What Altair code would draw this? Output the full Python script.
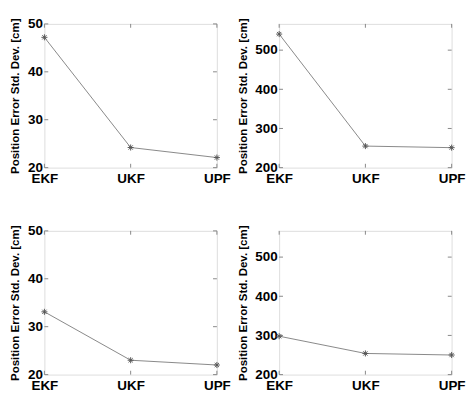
import altair as alt
import pandas as pd

methods = ["EKF", "UKF", "UPF"]
top_left = [47.2, 24.2, 22.1]
top_right = [541, 255, 251]
bottom_left = [33.1, 23.0, 22.0]
bottom_right = [298, 254, 250]
ticks_small = [20, 30, 40, 50]
ticks_large = [200, 300, 400, 500]
dom_small = [20, 50]
dom_large = [200, 567]

W, H = 180, 150
GRAY = "#858585"
ASTER = "M-1,0L1,0M0,-1L0,1M-0.7,-0.7L0.7,0.7M-0.7,0.7L0.7,-0.7"
TITLE = "Position Error Std. Dev. [cm]"
FONT = "Liberation Sans"


def panel(values, ticks, dom):
    df = pd.DataFrame({"method": methods, "value": values})
    tdf = pd.DataFrame({"value": ticks})
    cdf = pd.DataFrame({"method": methods})
    xs = alt.Scale(type="point", padding=0, domain=methods)
    ys = alt.Scale(domain=dom, nice=False, zero=False)
    xa = alt.Axis(title=None, labelAngle=0, ticks=False, domain=False,
                  grid=False, labelPadding=5, labelFont=FONT, labelFontSize=14,
                  labelFontWeight=700, labelColor="black")
    ya = alt.Axis(title=TITLE, values=ticks, ticks=False, domain=False,
                  grid=False, labelPadding=2, titlePadding=6, labelFont=FONT,
                  labelFontSize=14, labelFontWeight=700, labelColor="black",
                  titleFont=FONT, titleFontSize=12, titleFontWeight=700,
                  titleColor="black")
    x = alt.X("method:N", sort=methods, scale=xs, axis=xa)
    y = alt.Y("value:Q", scale=ys, axis=ya)
    base = alt.Chart(df)
    line = base.mark_line(color=GRAY, strokeWidth=1).encode(x=x, y=y)
    pts = base.mark_point(shape=ASTER, size=40, color="#555555", strokeWidth=1,
                          filled=False, opacity=1).encode(x=x, y=y)
    yt_l = alt.Chart(tdf).mark_rule(color=GRAY, strokeWidth=1).encode(
        y=y, x=alt.value(0), x2=alt.value(4))
    yt_r = alt.Chart(tdf).mark_rule(color=GRAY, strokeWidth=1).encode(
        y=y, x=alt.value(W - 4), x2=alt.value(W))
    xt_t = alt.Chart(cdf).mark_rule(color=GRAY, strokeWidth=1).encode(
        x=x, y=alt.value(0), y2=alt.value(4))
    xt_b = alt.Chart(cdf).mark_rule(color=GRAY, strokeWidth=1).encode(
        x=x, y=alt.value(H - 4), y2=alt.value(H))
    return alt.layer(line, yt_l, yt_r, xt_t, xt_b, pts).properties(width=W, height=H)


row1 = alt.hconcat(panel(top_left, ticks_small, dom_small),
                   panel(top_right, ticks_large, dom_large), spacing=5)
row2 = alt.hconcat(panel(bottom_left, ticks_small, dom_small),
                   panel(bottom_right, ticks_large, dom_large), spacing=5)

chart = alt.vconcat(row1, row2, spacing=38).properties(padding=0).configure_view(
    stroke=GRAY, strokeWidth=1
).configure(background="white")

chart.save("out.html", embed_options={"renderer": "svg", "actions": False})
